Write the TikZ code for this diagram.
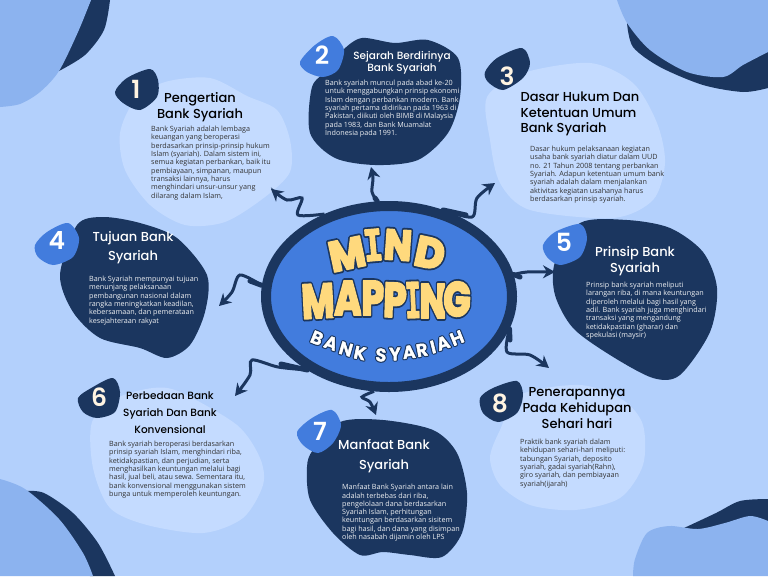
\documentclass[tikz,border=0pt]{standalone}
\usepackage{fontspec}
\usetikzlibrary{shapes.geometric,arrows.meta}
\newfontfamily\headfont{Poppins Medium}
\newfontfamily\numfont{Poppins SemiBold}
\newfontfamily\titlefont{Poppins ExtraBold}
\newfontfamily\bodyfont{Open Sans}
\newfontfamily\slabfont{DejaVu Sans Mono Bold}
\definecolor{skybg}{HTML}{B3D0FC}
\definecolor{paleblob}{HTML}{C4DBFF}
\definecolor{navyblob}{HTML}{1B365F}
\definecolor{midblob}{HTML}{427CDD}
\definecolor{cornerblue}{HTML}{8CB3EF}
\definecolor{titleyellow}{HTML}{FFD97D}
\definecolor{numcream}{HTML}{FFF4E2}
% a round navy stroke under the glyph, a thinner stroke of its own colour on top
\newcommand{\inked}[2]{\special{pdf:code 2 Tr #1 w 1 j}#2\special{pdf:code 0 Tr}}
\newcommand{\bubble}[4]{\rlap{\textcolor{navyblob}{\inked{#1}{#4}}}\textcolor{#3}{\inked{#2}{#4}}}
\newcommand{\bigletter}[2]{\scalebox{#1}[1]{\bubble{5}{1.4}{titleyellow}{#2}}}
\tikzset{
    palefill/.style={fill=paleblob},
    navyfill/.style={fill=navyblob},
    midfill/.style={fill=midblob},
    headline/.style 2 args={font=\headfont\fontsize{#1}{#2}\selectfont,align=center,inner sep=0pt},
    bodyline/.style={font=\bodyfont\fontsize{7.2}{8.3}\selectfont,align=left,inner sep=0pt,anchor=north west},
    onpale/.style={text=black!80},
    onnavy/.style={text=white!92!navyblob},
    badgenum/.style={font=\numfont\fontsize{25}{25}\selectfont,inner sep=0pt},
    wiggle/.style={draw=navyblob,line width=3pt,-{Stealth[length=12pt,width=13pt]}},
    wigglebase/.style={draw=navyblob,line width=5pt,line cap=round},
}
\begin{document}
\begin{tikzpicture}[x=1pt,y=-1pt]
    \fill[skybg] (0,0) rectangle (768,576);
    \useasboundingbox (0,0) rectangle (768,576);

    % corners
    \fill[navyblob] plot[smooth] coordinates {(59,71) (85,55) (104,30) (110,0)} -- (91,0) -- cycle;
    \fill[cornerblue] plot[smooth] coordinates {(91,0) (78,32) (59,71) (40,92) (20,104) (0,107)} -- (0,0) -- cycle;
    \fill[navyblob] plot[smooth] coordinates {(627,23) (633,47) (660,67) (703,85) (743,92) (768,88)} -- (768,50) -- (700,60) -- cycle;
    \fill[cornerblue] plot[smooth] coordinates {(617,0) (627,23) (650,50) (687,72) (723,77) (743,65) (768,52)} -- (768,0) -- cycle;
    \fill[navyblob] plot[smooth] coordinates {(25,491) (44,493) (73,513) (98,543) (115,576)} -- (90,576) -- cycle;
    \fill[cornerblue] plot[smooth] coordinates {(0,479) (25,489) (59,519) (83,553) (93,576)} -- (0,576) -- cycle;
    \fill[navyblob] plot[smooth] coordinates {(684,528) (716,513) (740,501) (768,499)} -- (768,525) -- (698,535) -- cycle;
    \fill[cornerblue] plot[smooth] coordinates {(633,576) (635,559) (647,533) (669,526) (698,529) (725,523) (750,516) (768,521)} -- (768,576) -- cycle;

    % blobs
    \fill[palefill] plot[smooth cycle] coordinates {(120,133) (135,100) (165,82) (210,78) (247,96) (277,110) (290,140) (290,172) (265,197) (225,222) (185,225) (150,205) (125,170)};
    \fill[navyfill] plot[smooth cycle] coordinates {(343,50) (362,38) (395,43) (428,40) (458,58) (460,97) (448,133) (418,160) (375,165) (335,158) (310,133) (312,87) (328,70)};
    \fill[palefill] plot[smooth cycle] coordinates {(487,97) (523,73) (590,63) (633,83) (657,123) (665,163) (653,200) (613,218) (530,210) (500,183) (490,140)};
    \fill[navyfill] plot[smooth cycle] coordinates {(77,225) (103,217) (140,223) (177,238) (207,275) (205,312) (190,345) (167,358) (140,348) (100,338) (73,312) (60,275)};
    \fill[navyfill] plot[smooth cycle] coordinates {(580,223) (627,220) (670,228) (703,252) (717,288) (710,332) (680,375) (653,378) (610,355) (573,328) (555,295) (555,262)};
    \fill[palefill] plot[smooth cycle] coordinates {(92,422) (117,398) (153,388) (180,392) (237,425) (260,458) (263,485) (243,518) (203,533) (147,525) (110,508) (93,468)};
    \fill[navyfill] plot[smooth cycle] coordinates {(340,422) (383,420) (433,430) (457,453) (467,493) (462,533) (442,557) (410,555) (383,552) (360,555) (333,533) (310,500) (307,467) (313,450)};
    \fill[palefill] plot[smooth cycle] coordinates {(490,458) (500,430) (520,395) (580,385) (623,400) (643,425) (643,465) (620,498) (575,510) (530,505) (500,485)};

    % number badges
    \fill[navyfill] plot[smooth cycle] coordinates {(115,92) (127,78) (150,69) (158,80) (157,97) (140,110) (123,103)};
    \fill[midfill] plot[smooth cycle] coordinates {(300,62) (315,45) (333,36) (344,50) (338,70) (323,77) (307,72)};
    \fill[navyfill] plot[smooth cycle] coordinates {(485,72) (497,58) (522,48) (530,63) (523,78) (503,90) (488,82)};
    \fill[midfill] plot[smooth cycle] coordinates {(35,245) (47,232) (68,223) (79,238) (73,257) (53,265) (38,257)};
    \fill[midfill] plot[smooth cycle] coordinates {(543,245) (555,232) (580,224) (587,238) (580,257) (560,265) (547,257)};
    \fill[navyfill] plot[smooth cycle] coordinates {(78,398) (93,387) (113,378) (120,392) (115,412) (97,418) (83,412)};
    \fill[midfill] plot[smooth cycle] coordinates {(297,432) (312,418) (332,410) (341,425) (333,443) (318,453) (303,445)};
    \fill[navyfill] plot[smooth cycle] coordinates {(480,398) (493,388) (517,381) (523,395) (517,413) (498,422) (483,413)};

    \node[badgenum,text=numcream] (num1) at (136,89) {1};
    \node[badgenum,text=white] (num2) at (322,55) {2};
    \node[badgenum,text=numcream] (num3) at (507,76) {3};
    \node[badgenum,text=white] (num4) at (57,240) {4};
    \node[badgenum,text=white] (num5) at (564,242) {5};
    \node[badgenum,text=numcream] (num6) at (99,397) {6};
    \node[badgenum,text=white] (num7) at (320,431) {7};
    \node[badgenum,text=numcream] (num8) at (500,403) {8};

    % hub and wiggly arrows
    \node[ellipse,draw=navyblob,fill=midblob,line width=10pt,minimum width=246pt,minimum height=181pt,inner sep=0pt] (hub) at (389,296.5) {};

    \coordinate (tip1) at (271,189);
    \coordinate (tip2) at (371,167);
    \coordinate (tip3) at (495,183);
    \coordinate (tip4) at (219,306);
    \coordinate (tip5) at (555,272);
    \coordinate (tip6) at (235,396);
    \coordinate (tip7) at (376,415);
    \coordinate (tip8) at (549,368);

    \draw[wiggle] plot[smooth] coordinates {(hub.128) (298,215) (302,198) (287,200) (tip1)};
    \draw[wiggle] plot[smooth] coordinates {(hub.97) (372,192) (373,178) (tip2)};
    \draw[wiggle] plot[smooth] coordinates {(hub.58) (472,217) (477,198) (tip3)};
    \draw[wiggle] plot[smooth] coordinates {(hub.175) (240,275) (232,292) (tip4)};
    \draw[wiggle] plot[smooth] coordinates {(hub.10) (527,272) (tip5)};
    \draw[wiggle] plot[smooth] coordinates {(hub.222) (278,367) (252,360) (250,375) (tip6)};
    \draw[wiggle] plot[smooth] coordinates {(hub.261) (362,397) (370,402) (tip7)};
    \draw[wiggle] plot[smooth] coordinates {(hub.345) (507,352) (530,355) (tip8)};
    \draw[wigglebase] (hub.58) -- (466,215);
    \draw[wigglebase] (hub.175) -- (250,281);
    \draw[wigglebase] (hub.10) -- (520,277);
    \draw[wigglebase] (hub.222) -- (281,364);
    \draw[wigglebase] (hub.345) -- (510,340);
    \draw[wigglebase] (hub.97) -- (375,198);

    % title letters
    \foreach \ch/\px/\py/\rt/\sx [count=\i] in {M/347/254/12/.9,\slabfont I/373/245/5/.75,N/398/245/-4/.85,D/430/253/-12/.95}
        \node[font=\titlefont\fontsize{43}{43}\selectfont,inner sep=0pt,rotate=\rt] (mind\i) at (\px,\py) {\bigletter{\sx}{\ch}};
    \foreach \ch/\px/\py/\rt/\sx [count=\i] in {M/318/301/3/.72,A/348/298/0/.75,P/373/298/0/.75,P/395/300/-2/.75,\slabfont I/413/300/2/.55,N/433/301/0/.72,G/457/299/-3/.75}
        \node[font=\titlefont\fontsize{49}{49}\selectfont,inner sep=0pt,rotate=\rt] (map\i) at (\px,\py) {\bigletter{\sx}{\ch}};
    \foreach \ch/\px/\py/\rt [count=\i] in {B/317/338/-22,A/331/343/-20,N/346/349/-16,K/360/353/-12,S/381/355/-4,Y/395/354/2,A/409/352/6,R/422/350/10,I/433/347/14,A/443/343/18,H/457/338/22}
        \node[font=\numfont\fontsize{18}{18}\selectfont,inner sep=0pt,rotate=\rt] (sub\i) at (\px,\py) {\bubble{2.8}{.5}{white}{\ch}};

    % headings
    \node[headline={13}{15.6},text=black] (head1) at (200,107) {Pengertian\\Bank Syariah};
    \node[headline={10.5}{12.5},text=white] (head2) at (402,63) {Sejarah Berdirinya\\Bank Syariah};
    \node[headline={13}{15.7},text=black,align=left] (head3) at (580,114) {Dasar Hukum Dan\\Ketentuan Umum\\Bank Syariah};
    \node[headline={13}{19},text=white] (head4) at (133,247.5) {Tujuan Bank\\Syariah};
    \node[headline={13}{16},text=white] (head5) at (635,261) {Prinsip Bank\\Syariah};
    \node[headline={10.5}{17},text=black] (head6) at (170,413) {Perbedaan Bank\\Syariah Dan Bank\\Konvensional};
    \node[headline={13}{20},text=white] (head7) at (384,456) {Manfaat Bank\\Syariah};
    \node[headline={13}{16},text=black] (head8) at (577,408) {Penerapannya\\Pada Kehidupan\\Sehari hari};

    % body texts
    \node[bodyline,onpale] (body1) at (151,126) {Bank Syariah adalah lembaga\\keuangan yang beroperasi\\berdasarkan prinsip-prinsip hukum\\Islam (syariah). Dalam sistem ini,\\semua kegiatan perbankan, baik itu\\pembiayaan, simpanan, maupun\\transaksi lainnya, harus\\menghindari unsur-unsur yang\\dilarang dalam Islam,};
    \node[bodyline,onnavy] (body2) at (325,80) {Bank syariah muncul pada abad ke-20\\untuk menggabungkan prinsip ekonomi\\Islam dengan perbankan modern. Bank\\syariah pertama didirikan pada 1963 di\\Pakistan, diikuti oleh BIMB di Malaysia\\pada 1983, dan Bank Muamalat\\Indonesia pada 1991.};
    \node[bodyline,onpale] (body3) at (530,146) {Dasar hukum pelaksanaan kegiatan\\usaha bank syariah diatur dalam UUD\\no. 21 Tahun 2008 tentang perbankan\\Syariah. Adapun ketentuan umum bank\\syariah adalah dalam menjalankan\\aktivitas kegiatan usahanya harus\\berdasarkan prinsip syariah.};
    \node[bodyline,onnavy] (body4) at (89,276) {Bank Syariah mempunyai tujuan\\menunjang pelaksanaan\\pembangunan nasional dalam\\rangka meningkatkan keadilan,\\kebersamaan, dan pemerataan\\kesejahteraan rakyat};
    \node[bodyline,onnavy] (body5) at (586,282) {Prinsip bank syariah meliputi\\larangan riba, di mana keuntungan\\diperoleh melalui bagi hasil yang\\adil. Bank syariah juga menghindari\\transaksi yang mengandung\\ketidakpastian (gharar) dan\\spekulasi (maysir)};
    \node[bodyline,onpale] (body6) at (109,441) {Bank syariah beroperasi berdasarkan\\prinsip syariah Islam, menghindari riba,\\ketidakpastian, dan perjudian, serta\\menghasilkan keuntungan melalui bagi\\hasil, jual beli, atau sewa. Sementara itu,\\bank konvensional menggunakan sistem\\bunga untuk memperoleh keuntungan.};
    \node[bodyline,onnavy] (body7) at (342,484) {Manfaat Bank Syariah antara lain\\adalah terbebas dari riba,\\pengelolaan dana berdasarkan\\Syariah Islam, perhitungan\\keuntungan berdasarkan sisitem\\bagi hasil, dan dana yang disimpan\\oleh nasabah dijamin oleh LPS};
    \node[bodyline,onpale] (body8) at (520,439) {Praktik bank syariah dalam\\kehidupan sehari-hari meliputi:\\tabungan Syariah, deposito\\syariah, gadai syariah(Rahn),\\giro syariah, dan pembiayaan\\syariah(ijarah)};
\end{tikzpicture}
\end{document}
